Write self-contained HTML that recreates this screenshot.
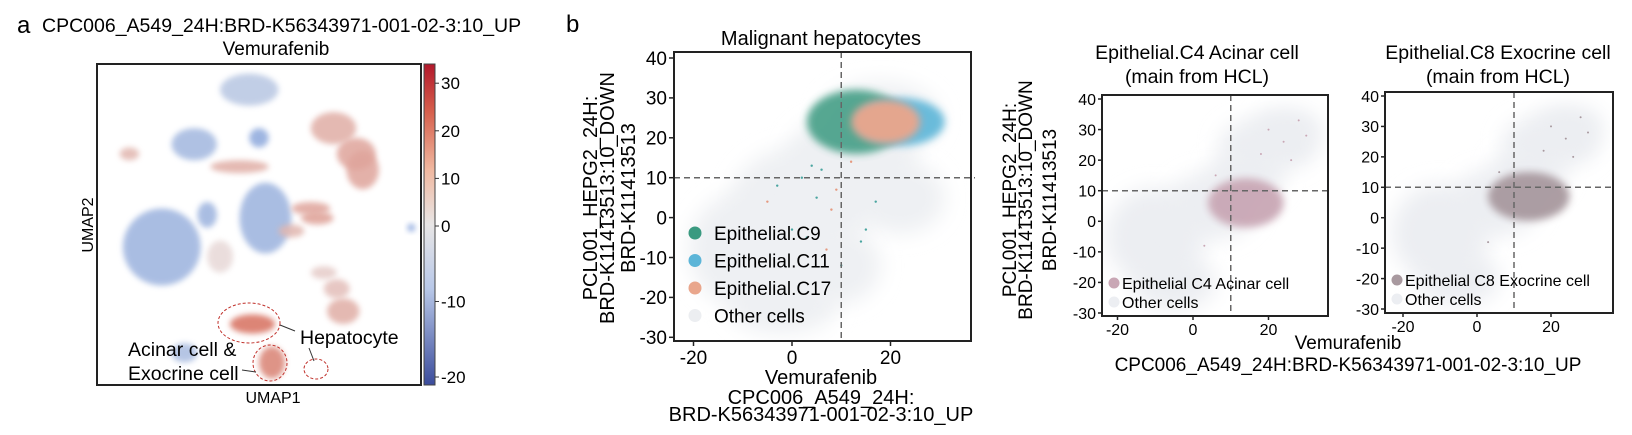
<!DOCTYPE html>
<html><head><meta charset="utf-8">
<style>
html,body{margin:0;padding:0;background:#fff;}
svg{display:block;font-family:"Liberation Sans",Arial,sans-serif;}
</style></head>
<body>
<svg id="fig" width="1632" height="435" viewBox="0 0 1632 435" xmlns="http://www.w3.org/2000/svg">
<defs>
<filter id="b3" x="-50%" y="-50%" width="200%" height="200%"><feGaussianBlur stdDeviation="3"/></filter>
<filter id="b4" x="-50%" y="-50%" width="200%" height="200%"><feGaussianBlur stdDeviation="4"/></filter>
<filter id="b12" x="-50%" y="-50%" width="200%" height="200%"><feGaussianBlur stdDeviation="10"/></filter>
<linearGradient id="cbar" x1="0" y1="0" x2="0" y2="1">
<stop offset="0" stop-color="#b2182b"/><stop offset="0.15" stop-color="#d6604d"/><stop offset="0.33" stop-color="#f0b8a0"/>
<stop offset="0.5" stop-color="#e8e6e6"/><stop offset="0.7" stop-color="#b8c8e8"/><stop offset="1" stop-color="#3b4c9c"/>
</linearGradient>
<clipPath id="clipA"><rect x="97" y="64" width="324" height="321"/></clipPath>
<clipPath id="clipB"><rect x="674" y="52" width="297" height="289"/></clipPath>
<clipPath id="clipC"><rect x="1102" y="95" width="226" height="221"/></clipPath>
<clipPath id="clipD"><rect x="1385" y="92" width="228" height="221"/></clipPath>
</defs>

<!-- Panel a -->
<text x="17" y="33" font-size="24">a</text>
<text x="42" y="32" font-size="19.5">CPC006_A549_24H:BRD-K56343971-001-02-3:10_UP</text>
<text x="276" y="55" font-size="19" text-anchor="middle">Vemurafenib</text>
<g id="umap" clip-path="url(#clipA)"></g>
<rect x="97" y="64" width="324" height="321" fill="none" stroke="#222" stroke-width="2"/>
<text transform="translate(93,225) rotate(-90)" font-size="16" text-anchor="middle">UMAP2</text>
<text x="273" y="403" font-size="16" text-anchor="middle">UMAP1</text>
<rect x="424" y="64" width="11" height="321" fill="url(#cbar)" stroke="#444" stroke-width="1"/>
<g id="cbticks"></g>
<g>
<ellipse cx="249" cy="323" rx="31" ry="20" fill="none" stroke="#c0302a" stroke-width="1" stroke-dasharray="3,2"/>
<ellipse cx="270" cy="363" rx="17" ry="18" fill="none" stroke="#c0302a" stroke-width="1" stroke-dasharray="3,2"/>
<ellipse cx="316" cy="369" rx="12" ry="10" fill="none" stroke="#c0302a" stroke-width="1" stroke-dasharray="3,2"/>
<line x1="280" y1="325" x2="295" y2="331" stroke="#333" stroke-width="1"/>
<line x1="309" y1="348" x2="314" y2="361" stroke="#333" stroke-width="1"/>
<line x1="242" y1="370" x2="256" y2="372" stroke="#333" stroke-width="1"/>
<text x="300" y="344" font-size="19.5">Hepatocyte</text>
<text x="128" y="356" font-size="19.5">Acinar cell &amp;</text>
<text x="128" y="380" font-size="19.5">Exocrine cell</text>
</g>

<!-- Panel b -->
<text x="566" y="32" font-size="24">b</text>
<text x="821" y="45" font-size="20" text-anchor="middle">Malignant hepatocytes</text>
<g id="pb"></g>
<g font-size="20" text-anchor="middle">
<text transform="translate(597,198) rotate(-90)">PCL001_HEPG2_24H:</text>
<text transform="translate(614,198) rotate(-90)">BRD-K11413513:10_DOWN</text>
<text transform="translate(635,198) rotate(-90)">BRD-K11413513</text>
</g>
<g font-size="20" text-anchor="middle">
<text x="821" y="384">Vemurafenib</text>
<text x="821" y="404">CPC006_A549_24H:</text>
<text x="821" y="421">BRD-K56343971-001-02-3:10_UP</text>
</g>

<text x="1197" y="59" font-size="19.5" text-anchor="middle">Epithelial.C4 Acinar cell</text>
<text x="1197" y="83" font-size="19.5" text-anchor="middle">(main from HCL)</text>
<text x="1498" y="59" font-size="19.5" text-anchor="middle">Epithelial.C8 Exocrine cell</text>
<text x="1498" y="83" font-size="19.5" text-anchor="middle">(main from HCL)</text>
<g font-size="19" text-anchor="middle">
<text transform="translate(1016,200) rotate(-90)">PCL001_HEPG2_24H:</text>
<text transform="translate(1032,200) rotate(-90)">BRD-K11413513:10_DOWN</text>
<text transform="translate(1056,200) rotate(-90)">BRD-K11413513</text>
</g>
<g id="pc"></g>
<g id="pd"></g>
<g font-size="19" text-anchor="middle">
<text x="1348" y="349">Vemurafenib</text>
<text x="1348" y="371">CPC006_A549_24H:BRD-K56343971-001-02-3:10_UP</text>
</g>
</svg>

<script>
// ---- Data ----
const umapX = [47, 73, 80, 82, 52, 20, 30, 50, 44, 66, 68, 38, 74, 76, 48, 54, 97, 27, 34, 60, 10, 70];
const umapY = [8, 20, 28, 33, 48, 57, 25, 23, 32, 45, 48, 60, 70, 77, 81, 93, 51, 90, 47, 52, 28, 65];
const umapRX = [9, 7, 6, 5, 8, 12, 7, 3, 9, 6, 5, 4, 4, 5, 7, 4, 1.2, 4, 3, 4, 3, 4];
const umapRY = [5, 5, 5, 6, 11, 12, 5, 3, 2, 2, 2, 5, 3, 4, 3, 5, 1.2, 3, 4, 2, 2, 2];
const umapVal = [-6, 12, 14, 14, -10, -10, -9, -12, 12, 14, 15, 2, 8, 12, 26, 22, -14, -8, -10, 10, 10, 5];

const cbTicks = [30, 20, 10, 0, -10, -20];

const bxTicks = [-20, 0, 20];
const byTicks = [40, 30, 20, 10, 0, -10, -20, -30];
const bOtherCx = [-8, 3, 12, 18, 22, -2, 8];
const bOtherCy = [-8, 5, 15, 25, 5, -22, -12];
const bOtherSx = [13, 15, 13, 12, 9, 11, 10];
const bOtherSy = [15, 13, 11, 9, 9, 7, 10];
const bC9 = [13, 24, 10, 8];
const bC11 = [22, 24, 9, 6];
const bC17 = [19, 24, 7, 5.5];
const bOutX = [2, 5, 8, -3, 0, 12, 15, 4, 7, 10, 3, -5, 17, 6, 9, 14];
const bOutY = [10, 5, 2, 8, -3, 14, -3, 13, -8, -12, -5, 4, 4, 12, 7, -6];
const bLegend = ["Epithelial.C9", "Epithelial.C11", "Epithelial.C17", "Other cells"];

const cxTicks = [-20, 0, 20];
const cyTicks = [40, 30, 20, 10, 0, -10, -20, -30];
const cOtherCx = [-10, -5, 20, 5, 25, 14];
const cOtherCy = [-5, -20, 25, 5, 30, 15];
const cOtherSx = [13, 11, 13, 12, 9, 10];
const cOtherSy = [16, 9, 9, 11, 7, 9];
const acinar = [14, 6, 10, 8];
const exocrine = [14, 7, 11, 8];
const cOutX = [20, 24, 28, 18, 26, 3, 6, 30];
const cOutY = [30, 26, 33, 22, 20, -8, 15, 28];

const NS = "http://www.w3.org/2000/svg";
function mk(parent, tag, attrs, txt) {
  const e = document.createElementNS(NS, tag);
  for (const k in attrs) e.setAttribute(k, attrs[k]);
  if (txt !== undefined) e.textContent = txt;
  parent.appendChild(e);
  return e;
}
function valColor(v) {
  if (v >= 0) { const t = Math.min(v / 30, 1); return `rgb(${Math.round(232 - 20 * t)},${Math.round(225 - 130 * t)},${Math.round(225 - 150 * t)})`; }
  const t = Math.min(-v / 20, 1); return `rgb(${Math.round(225 - 140 * t)},${Math.round(228 - 100 * t)},${Math.round(232 - 20 * t)})`;
}

// ---- Panel a ----
const ua = document.getElementById('umap');
const ax = u => 97 + u * 3.24, ay = u => 64 + u * 3.21;
for (let i = 0; i < umapX.length; i++) {
  const e = mk(ua, 'ellipse', {cx: ax(umapX[i]), cy: ay(umapY[i]), rx: umapRX[i] * 3.24, ry: umapRY[i] * 3.21, fill: valColor(umapVal[i]), opacity: 0.85, filter: 'url(#b3)'});
  
  
}
const cbY = v => v >= 0 ? 226 - v * 4.76 : 226 - v * 7.55;
const cbt = document.getElementById('cbticks');
cbTicks.forEach(v => {
  mk(cbt, 'line', {x1: 435, x2: 439, y1: cbY(v), y2: cbY(v), stroke: '#333'});
  const t = mk(cbt, 'text', {x: 441, y: cbY(v) + 6, 'font-size': 17}, String(v));
  
  
});

function axes(g, box, sx, sy, xt, yt, fs, tlen) {
  mk(g, 'rect', {x: box[0], y: box[1], width: box[2], height: box[3], fill: 'none', stroke: '#222', 'stroke-width': 2});
  xt.forEach(v => {
    mk(g, 'line', {x1: sx(v), x2: sx(v), y1: box[1] + box[3], y2: box[1] + box[3] + tlen, stroke: '#222', 'stroke-width': 1.5});
    const t = mk(g, 'text', {x: sx(v), y: box[1] + box[3] + tlen + fs * 0.95, 'font-size': fs, 'text-anchor': 'middle'}, String(v));
    
    
  });
  yt.forEach(v => {
    mk(g, 'line', {x1: box[0] - tlen, x2: box[0], y1: sy(v), y2: sy(v), stroke: '#222', 'stroke-width': 1.5});
    const t = mk(g, 'text', {x: box[0] - tlen - 2, y: sy(v) + fs * 0.36, 'font-size': fs, 'text-anchor': 'end'}, String(v));
    
    
  });
}
function cloud(g, sx, sy, c, kx, ky, color, op, blur) {
  const e = mk(g, 'ellipse', {cx: sx(c[0]), cy: sy(c[1]), rx: c[2] * kx, ry: c[3] * ky, fill: color, opacity: op, filter: blur});
  
  
  return e;
}
function dashes(g, box, sx, sy, xExtra) {
  mk(g, 'line', {x1: sx(10), x2: sx(10), y1: box[1], y2: box[1] + box[3], stroke: '#666', 'stroke-width': 1.5, 'stroke-dasharray': '6,4'});
  mk(g, 'line', {x1: box[0], x2: box[0] + box[2] + xExtra, y1: sy(10), y2: sy(10), stroke: '#666', 'stroke-width': 1.5, 'stroke-dasharray': '6,4'});
}

// ---- Panel b ----
const pb = document.getElementById('pb');
const bBox = [674, 52, 297, 289];
const bsx = v => 792 + v * 4.925, bsy = v => 58 + (40 - v) * 3.99;
const bcg = mk(pb, 'g', {'clip-path': 'url(#clipB)'});
for (let i = 0; i < bOtherCx.length; i++) cloud(bcg, bsx, bsy, [bOtherCx[i], bOtherCy[i], bOtherSx[i], bOtherSy[i]], 4.925, 3.99, '#eef0f3', 1, 'url(#b12)');
cloud(bcg, bsx, bsy, bC9, 4.925, 3.99, '#3a9a80', 0.85, 'url(#b4)');
cloud(bcg, bsx, bsy, bC11, 4.925, 3.99, '#5cb5d8', 0.9, 'url(#b4)');
cloud(bcg, bsx, bsy, bC17, 4.925, 3.99, '#e9a68c', 0.97, 'url(#b4)');
for (let i = 0; i < bOutX.length; i++) {
  const p = mk(bcg, 'circle', {cx: bsx(bOutX[i]), cy: bsy(bOutY[i]), r: 1.2, fill: i % 3 === 2 ? '#e59a80' : '#4aa5a0'});
  
  
}
dashes(pb, bBox, bsx, bsy, 4);
axes(pb, bBox, bsx, bsy, bxTicks, byTicks, 19, 5);
const bCols = ['#3a9a80', '#5cb5d8', '#e9a68c', '#eceef1'];
bLegend.forEach((s, i) => {
  const y = 233 + i * 27.5;
  const c = mk(pb, 'circle', {cx: 695, cy: y, r: 6.5, fill: bCols[i]});
  
  
  const t = mk(pb, 'text', {x: 714, y: y + 7, 'font-size': 19}, s);
  
  
});

// ---- Panels C4 / C8 ----
function smallPanel(id, box, sx, sy, kx, ky, clip, cl, col, label) {
  const g = document.getElementById(id);
  const cg = mk(g, 'g', {'clip-path': clip});
  for (let i = 0; i < cOtherCx.length; i++) cloud(cg, sx, sy, [cOtherCx[i], cOtherCy[i], cOtherSx[i], cOtherSy[i]], kx, ky, '#eceef2', 1, 'url(#b12)');
  cloud(cg, sx, sy, cl, kx, ky, col, 0.95, 'url(#b4)');
  for (let i = 0; i < cOutX.length; i++) {
    const p = mk(cg, 'circle', {cx: sx(cOutX[i]), cy: sy(cOutY[i]), r: 1, fill: col});
    
    
  }
  dashes(g, box, sx, sy, 0);
  axes(g, box, sx, sy, cxTicks, cyTicks, 16, 4);
  const ly = box[1] + box[3] - 33;
  const m1 = mk(g, 'circle', {cx: box[0] + 12, cy: ly, r: 5.5, fill: col});
  
  
  const t1 = mk(g, 'text', {x: box[0] + 20, y: ly + 6, 'font-size': 16}, label);
  
  
  const m2 = mk(g, 'circle', {cx: box[0] + 12, cy: ly + 19, r: 5.5, fill: '#eceef2'});
  
  
  const t2 = mk(g, 'text', {x: box[0] + 20, y: ly + 25, 'font-size': 16}, 'Other cells');
  
  
}
smallPanel('pc', [1102, 95, 226, 221], v => 1193 + v * 3.775, v => 99 + (40 - v) * 3.057, 3.775, 3.057, 'url(#clipC)', acinar, '#c9a7b5', 'Epithelial C4 Acinar cell');
smallPanel('pd', [1385, 92, 228, 221], v => 1477 + v * 3.7, v => 96 + (40 - v) * 3.043, 3.7, 3.043, 'url(#clipD)', exocrine, '#a8999f', 'Epithelial C8 Exocrine cell');
</script>
</body></html>
